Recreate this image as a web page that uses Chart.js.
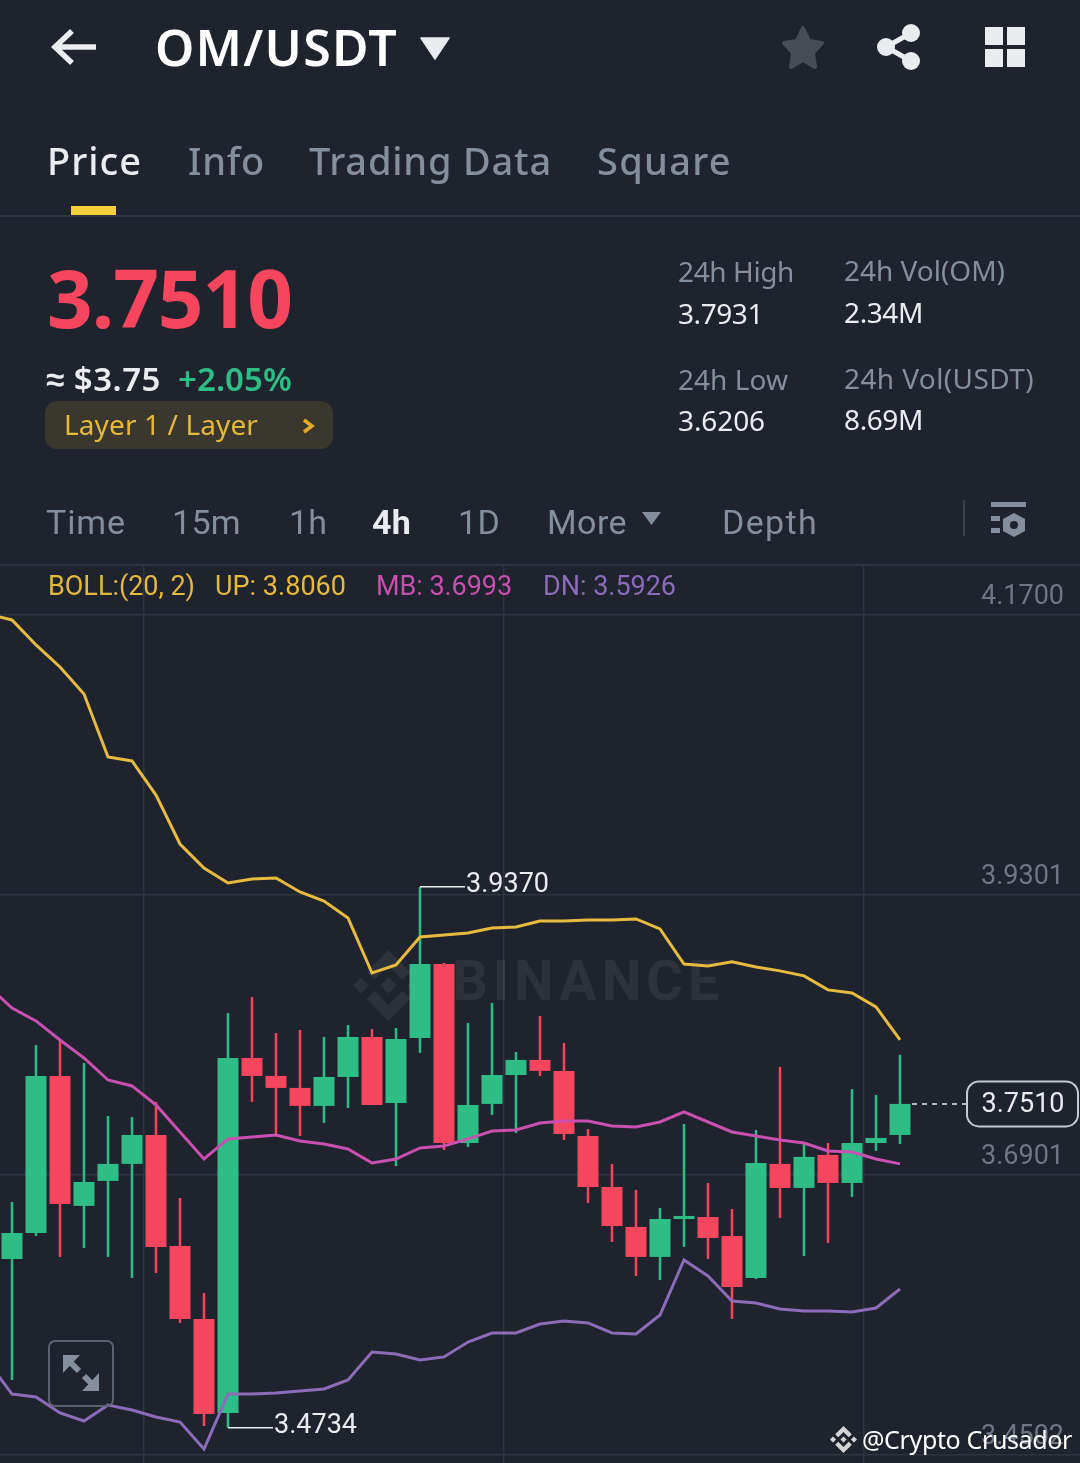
<!DOCTYPE html>
<html>
<head>
<meta charset="utf-8">
<title>OM/USDT</title>
<script src="https://cdn.jsdelivr.net/npm/chart.js@4"></script>
<style>
  html, body { margin: 0; padding: 0; width: 1080px; height: 1463px; overflow: hidden; background: #1e232d; }
  body { position: relative; font-family: Roboto, sans-serif; }
  canvas { position: absolute; left: 0; top: 565px; }
  svg { position: absolute; left: 0; top: 0; }
  .t { position: absolute; white-space: nowrap; line-height: 1; transform: translateY(-50%); }
  .tab { font: 500 38px "Noto Sans", sans-serif; color: #848e9c; }
  .stat { font: 400 28px "Noto Sans", sans-serif; color: #848e9c; }
  .val { font: 400 28px "Noto Sans", sans-serif; color: #eaecef; }
  .per { font: 400 34px Roboto, sans-serif; color: #848e9c; }
  .boll { font: 400 27px Roboto, sans-serif; }
  .line { position: absolute; left: 0; width: 1080px; height: 2px; background: #2f3540; }
</style>
</head>
<body>

<canvas id="kline" width="1080" height="898"></canvas>

<svg width="1080" height="1463" viewBox="0 0 1080 1463">
  <!-- top bar -->
  <path d="M96 47H56M72 31L55 47L72 63" fill="none" stroke="#eaecef" stroke-width="5.5"/>
  <path d="M421 38H449L435 59Z" fill="#eaecef" stroke="#eaecef" stroke-width="1.5" stroke-linejoin="round"/>
  <path d="M803 28L809 41L822 43L813 53L815 67L803 60L791 67L793 53L784 43L797 41Z" fill="#474d57" stroke="#474d57" stroke-width="4" stroke-linejoin="round"/>
  <path d="M911 33L886 47L911 61" fill="none" stroke="#eaecef" stroke-width="5"/>
  <circle cx="911" cy="33" r="9" fill="#eaecef"/><circle cx="886" cy="47" r="9" fill="#eaecef"/><circle cx="911" cy="61" r="9" fill="#eaecef"/>
  <g fill="#eaecef">
    <rect x="985" y="27" width="18" height="18"/><rect x="1007" y="27" width="18" height="18"/>
    <rect x="985" y="49" width="18" height="18"/><rect x="1007" y="49" width="18" height="18"/>
  </g>
  <rect x="71" y="206" width="45" height="9" fill="#f5cf3b"/>
  <!-- pill -->
  <rect x="45" y="401" width="288" height="48" rx="12" fill="#3a382e"/>
  <path d="M304 420L312 426L304 432" fill="none" stroke="#e6a92c" stroke-width="3.5"/>
  <!-- period bar -->
  <path d="M642 512H661L651.500 525Z" fill="#848e9c"/>
  <rect x="963" y="500" width="2" height="36" fill="#3a404a"/>
  <g fill="#848e9c">
    <rect x="991" y="502" width="35" height="5"/><rect x="991" y="516" width="9" height="5"/><rect x="991" y="528" width="9" height="5"/>
    <path d="M1014 513L1025 519V531L1014 537L1003 531V519Z"/>
  </g>
  <circle cx="1014" cy="525" r="4" fill="#1e232d"/>
  <!-- expand button -->
  <rect x="49" y="1341" width="64" height="65" rx="6" fill="none" stroke="#5c6370" stroke-width="2"/>
  <g fill="#848e9c" stroke="none">
    <path d="M63 1355H80L63 1373Z"/><path d="M99 1391H82L99 1373Z"/>
  </g>
  <path d="M69 1361L79 1371M84 1376L94 1386" stroke="#848e9c" stroke-width="6"/>
  <!-- corner mark -->
  <path id="mark" transform="translate(830 1426) scale(0.2133)" fill="#d5d5d5" d="M38.73 53.2l24.59-24.58 24.6 24.6 14.3-14.31L63.32 0 24.43 38.9zM0 63.31L14.3 49l14.31 14.31-14.31 14.3zM38.73 73.41l24.59 24.59 24.6-24.6 14.31 14.29-38.9 38.91-38.91-38.88zM98 63.31L112.3 49l14.3 14.3-14.3 14.32zM77.83 63.3l-14.51-14.52-10.73 10.73-1.24 1.23-2.54 2.54 14.51 14.5 14.51-14.47z"/>
</svg>

<div class="line" style="top:215px"></div>
<div class="line" style="top:564px"></div>

<span class="t" data-w="243" style="left:155px;top:47px;font:600 50px 'Noto Sans',sans-serif;color:#fff">OM/USDT</span>

<span class="t tab" data-w="95" style="left:47px;top:160px;color:#eaecef">Price</span>
<span class="t tab" data-w="77" style="left:188px;top:160px">Info</span>
<span class="t tab" data-w="243" style="left:309px;top:160px">Trading Data</span>
<span class="t tab" data-w="135" style="left:597px;top:160px">Square</span>

<span class="t" data-w="245" style="left:47px;top:296px;font:700 80px 'Noto Sans',sans-serif;color:#f6465d">3.7510</span>
<span class="t" data-w="115" style="left:46px;top:378px;font:600 33px 'Noto Sans',sans-serif;color:#eaecef">≈ $3.75</span>
<span class="t" data-w="114" style="left:178px;top:378px;font:600 33px 'Noto Sans',sans-serif;color:#2ebd85">+2.05%</span>
<span class="t" data-w="194" style="left:64px;top:424px;font:400 28px 'Noto Sans',sans-serif;color:#e6b93c">Layer 1 / Layer</span>

<span class="t stat" data-w="116" style="left:678px;top:271px">24h High</span>
<span class="t val" data-w="85" style="left:678px;top:313px">3.7931</span>
<span class="t stat" data-w="161" style="left:844px;top:270px">24h Vol(OM)</span>
<span class="t val" data-w="79" style="left:844px;top:312px">2.34M</span>
<span class="t stat" data-w="110" style="left:678px;top:379px">24h Low</span>
<span class="t val" data-w="87" style="left:678px;top:420px">3.6206</span>
<span class="t stat" data-w="190" style="left:844px;top:378px">24h Vol(USDT)</span>
<span class="t val" data-w="79" style="left:844px;top:419px">8.69M</span>

<span class="t per" data-w="80" style="left:46px;top:522px">Time</span>
<span class="t per" data-w="69" style="left:172px;top:522px">15m</span>
<span class="t per" data-w="38" style="left:289px;top:522px">1h</span>
<span class="t per" data-w="39" style="left:372px;top:522px;font-weight:700;color:#eaecef">4h</span>
<span class="t per" data-w="42" style="left:458px;top:522px">1D</span>
<span class="t per" data-w="80" style="left:547px;top:522px">More</span>
<span class="t per" data-w="96" style="left:722px;top:522px">Depth</span>

<span class="t boll" data-w="147" style="left:48px;top:586px;color:#e6b93c">BOLL:(20, 2)</span>
<span class="t boll" data-w="131" style="left:215px;top:586px;color:#e6b93c">UP: 3.8060</span>
<span class="t boll" data-w="136" style="left:376px;top:586px;color:#c94fb0">MB: 3.6993</span>
<span class="t boll" data-w="133" style="left:543px;top:586px;color:#8c6bb8">DN: 3.5926</span>

<span class="t" data-w="210" style="left:862px;top:1439px;font:400 25px 'Noto Sans',sans-serif;color:#fff">@Crypto Crusador</span>

<script>
'use strict';

// one entry per 4h candle
const opens  = [3.6181, 3.6404, 3.7750, 3.6636, 3.6850, 3.6996, 3.7244, 3.6293, 3.5667, 3.4862,
  3.7904, 3.7750, 3.7647, 3.7493, 3.7741, 3.8084, 3.7518, 3.8075, 3.8709, 3.7175,
  3.7510, 3.7758, 3.7887, 3.7793, 3.7235, 3.6798, 3.6456, 3.6199, 3.6524, 3.6541,
  3.6378, 3.6019, 3.6996, 3.6790, 3.7073, 3.6833, 3.7175, 3.7244];
const highs  = [3.6670, 3.8015, 3.8058, 3.7861, 3.7407, 3.7398, 3.7527, 3.6704, 3.5890, 3.8290,
  3.8427, 3.8118, 3.8144, 3.8084, 3.8187, 3.8152, 3.8161, 3.9370, 3.8718, 3.8204,
  3.8375, 3.7955, 3.8264, 3.8032, 3.7295, 3.6996, 3.6773, 3.6618, 3.7338, 3.6833,
  3.6610, 3.7287, 3.7827, 3.7167, 3.7175, 3.7638, 3.7587, 3.7931];
const lows   = [3.5144, 3.6378, 3.6199, 3.6276, 3.6199, 3.6019, 3.6061, 3.5633, 3.4750, 3.4734,
  3.7527, 3.7244, 3.7235, 3.7347, 3.7475, 3.7501, 3.6978, 3.7947, 3.7115, 3.7141,
  3.7415, 3.7261, 3.7750, 3.7201, 3.6661, 3.6327, 3.6036, 3.6001, 3.6284, 3.6181,
  3.5667, 3.6010, 3.6533, 3.6207, 3.6318, 3.6713, 3.7107, 3.7167];
const closes = [3.6404, 3.7750, 3.6653, 3.6841, 3.6996, 3.7244, 3.6284, 3.5667, 3.4853, 3.7904,
  3.7750, 3.7647, 3.7493, 3.7741, 3.8084, 3.7501, 3.8067, 3.8709, 3.7175, 3.7501,
  3.7758, 3.7887, 3.7793, 3.7253, 3.6798, 3.6464, 3.6199, 3.6524, 3.6550, 3.6361,
  3.5941, 3.7004, 3.6790, 3.7056, 3.6833, 3.7175, 3.7218, 3.7510];

// bollinger bands start one candle earlier, off the left edge
const bollUp = [4.1709, 4.1657, 4.1443, 4.1254, 4.1023, 4.0483, 4.0449, 4.0157, 3.9737, 3.9532, 3.9403,
  3.9438, 3.9446, 3.9326, 3.9249, 3.9103, 3.8632, 3.8700, 3.8940, 3.8958, 3.8975,
  3.9018, 3.9026, 3.9078, 3.9078, 3.9086, 3.9086, 3.9095, 3.9009, 3.8709, 3.8692,
  3.8727, 3.8684, 3.8650, 3.8607, 3.8487, 3.8461, 3.8341, 3.8058];
const bollMb = [3.8521, 3.8332, 3.8221, 3.8058, 3.7904, 3.7715, 3.7664, 3.7501, 3.7270, 3.7038, 3.7210,
  3.7227, 3.7244, 3.7193, 3.7167, 3.7124, 3.7004, 3.7038, 3.7133, 3.7150, 3.7210,
  3.7278, 3.7287, 3.7347, 3.7364, 3.7364, 3.7321, 3.7313, 3.7355, 3.7441, 3.7355,
  3.7270, 3.7235, 3.7201, 3.7175, 3.7107, 3.7098, 3.7038, 3.6996];
const bollDn = [3.5299, 3.5024, 3.4999, 3.4862, 3.4793, 3.4930, 3.4887, 3.4827, 3.4784, 3.4553, 3.5024,
  3.5024, 3.5033, 3.5050, 3.5067, 3.5144, 3.5384, 3.5367, 3.5316, 3.5342, 3.5470,
  3.5547, 3.5547, 3.5624, 3.5650, 3.5633, 3.5547, 3.5539, 3.5701, 3.6173, 3.6036,
  3.5821, 3.5804, 3.5753, 3.5736, 3.5736, 3.5727, 3.5761, 3.5924];

const priceTicks = [4.1700, 3.9301, 3.6901, 3.4502];
const timeTicks = [13, 28];

const GREEN = '#2ebd85', RED = '#f6465d', GRID = '#2f3540';
const MARK = 'M38.73 53.2l24.59-24.58 24.6 24.6 14.3-14.31L63.32 0 24.43 38.9zM0 63.31L14.3 49l14.31 14.31-14.31 14.3zM38.73 73.41l24.59 24.59 24.6-24.6 14.31 14.29-38.9 38.91-38.91-38.88zM98 63.31L112.3 49l14.3 14.3-14.3 14.32zM77.83 63.3l-14.51-14.52-10.73 10.73-1.24 1.23-2.54 2.54 14.51 14.5 14.51-14.47z';

// stretch each header text to the width it has on the phone screen
document.querySelectorAll('.t[data-w]').forEach(el => {
  const n = el.textContent.length;
  const w = el.getBoundingClientRect().width;
  el.style.letterSpacing = ((+el.dataset.w - w) / n) + 'px';
});

const colors = opens.map((o, i) => closes[i] >= o ? GREEN : RED);

const watermark = {
  id: 'watermark',
  beforeDatasetsDraw(chart) {
    const ctx = chart.ctx;
    ctx.save();
    ctx.fillStyle = 'rgba(255,255,255,0.065)';
    ctx.save();
    ctx.translate(353, 385);
    ctx.scale(0.56, 0.56);
    ctx.fill(new Path2D(MARK));
    ctx.restore();
    ctx.font = '700 56px Roboto, sans-serif';
    ctx.letterSpacing = '5px';
    ctx.textBaseline = 'middle';
    ctx.fillText('BINANCE', 452, 421);
    ctx.restore();
  }
};

const priceMarks = {
  id: 'priceMarks',
  afterDatasetsDraw(chart) {
    const { ctx, scales: { x, y } } = chart;
    const hi = highs.indexOf(Math.max(...highs));
    const lo = lows.indexOf(Math.min(...lows));
    const last = closes.length - 1;

    ctx.save();
    ctx.font = '400 27px Roboto, sans-serif';
    ctx.textBaseline = 'middle';
    ctx.strokeStyle = '#eaecef';
    ctx.lineWidth = 1.5;

    [[hi, highs[hi]], [lo, lows[lo]]].forEach(([i, v]) => {
      const px = x.getPixelForValue(i), py = y.getPixelForValue(v);
      ctx.beginPath();
      ctx.moveTo(px, py);
      ctx.lineTo(px + 45, py);
      ctx.stroke();
      ctx.fillStyle = '#eaecef';
      ctx.fillText(v.toFixed(4), px + 46, py - 2);
    });

    const ly = y.getPixelForValue(closes[last]);
    const lx = x.getPixelForValue(last);
    ctx.setLineDash([5, 5]);
    ctx.beginPath();
    ctx.moveTo(lx + 12, ly);
    ctx.lineTo(966, ly);
    ctx.stroke();
    ctx.setLineDash([]);

    ctx.beginPath();
    ctx.roundRect(967, ly - 22.5, 111, 45, 12);
    ctx.fillStyle = '#1e232d';
    ctx.fill();
    ctx.strokeStyle = '#c6cad0';
    ctx.lineWidth = 2;
    ctx.stroke();
    ctx.fillStyle = '#eaecef';
    ctx.textAlign = 'center';
    ctx.fillText(closes[last].toFixed(4), 1023, ly + 1);
    ctx.restore();
  }
};

const lineSet = (label, data, color) => ({
  type: 'line',
  label,
  data: data.map((v, i) => ({ x: i - 1, y: v })),
  borderColor: color,
  borderWidth: 3,
  pointRadius: 0,
  tension: 0,
  order: 1
});

new Chart(document.getElementById('kline'), {
  type: 'bar',
  data: {
    datasets: [
      {
        label: 'wick',
        data: opens.map((_, i) => ({ x: i, y: [lows[i], highs[i]] })),
        backgroundColor: colors,
        barThickness: 2.5,
        grouped: false,
        inflateAmount: 0,
        order: 4
      },
      {
        label: 'body',
        data: opens.map((o, i) => ({ x: i, y: [o, closes[i]] })),
        backgroundColor: colors,
        barThickness: 21,
        minBarLength: 3,
        grouped: false,
        inflateAmount: 0,
        order: 3
      },
      lineSet('UP', bollUp, '#e7bb3e'),
      lineSet('MB', bollMb, '#c94fb0'),
      lineSet('DN', bollDn, '#8c6bb8')
    ]
  },
  options: {
    responsive: false,
    animation: false,
    devicePixelRatio: 1,
    layout: { padding: 0 },
    plugins: { legend: { display: false }, tooltip: { enabled: false } },
    scales: {
      x: {
        type: 'linear',
        offset: false,
        min: -0.5,
        max: 44.5,
        afterBuildTicks: s => { s.ticks = timeTicks.map(v => ({ value: v })); },
        ticks: { display: false },
        grid: { color: GRID, lineWidth: 1.5, drawTicks: false },
        border: { display: false }
      },
      y: {
        type: 'linear',
        position: 'right',
        min: 3.4433,
        max: 4.2128,
        afterFit: s => { s.width = 0; s.paddingTop = 0; s.paddingBottom = 0; },
        afterBuildTicks: s => { s.ticks = priceTicks.map(v => ({ value: v })); },
        ticks: {
          mirror: true,
          padding: -16,
          labelOffset: -18,
          color: '#6f7784',
          font: { family: 'Roboto, sans-serif', size: 27 },
          callback: v => v.toFixed(4)
        },
        grid: { color: GRID, lineWidth: 1.5, drawTicks: false },
        border: { display: false }
      }
    }
  },
  plugins: [watermark, priceMarks]
});
</script>
</body>
</html>
